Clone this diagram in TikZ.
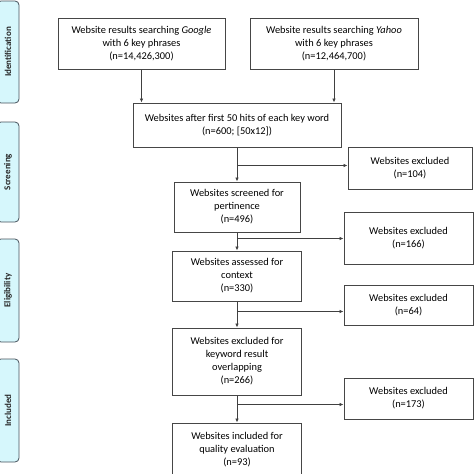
\documentclass[tikz,border=0pt]{standalone}
\usepackage{fontspec}
\setmainfont{Carlito}
\usetikzlibrary{positioning, arrows.meta, calc}

\definecolor{phasefill}{RGB}{214,247,252}
\definecolor{phaseline}{RGB}{70,82,92}
\definecolor{boxline}{RGB}{70,70,70}

\begin{document}
\begin{tikzpicture}[
  x=1pt, y=1pt,
  font=\fontsize{10.4}{13}\selectfont,
  stage/.style={
    draw=boxline,
    line width=1pt,
    align=center,
    inner sep=2pt,
  },
  phase/.style={
    draw=phaseline,
    fill=phasefill,
    line width=0.8pt,
    rounded corners=4pt,
    rotate=90,
    minimum height=22pt,
    text=black!85,
    font=\fontsize{9}{10}\selectfont\bfseries,
  },
  flow/.style={
    draw=black!75,
    line width=0.8pt,
    -{Latex[length=4pt,width=3.6pt]},
  },
]
\useasboundingbox (0,0) rectangle (474,-474);

% --- phase bars on the left ---
\node[phase, minimum width=102pt] (Ident) at (8,-52) {Identification};
\node[phase, minimum width=100pt] (Screen) at (8,-172) {Screening};
\node[phase, minimum width=103pt] (Elig) at (8,-290.5) {Eligibility};
\node[phase, minimum width=103pt] (Incl) at (8,-410.5) {Included};

% --- searches ---
\node[stage, minimum width=167pt, minimum height=51pt] (Google) at (141.5,-43.5)
  {Website results searching \textit{Google}\\ with 6 key phrases\\ (n=14,426,300)};
\node[stage, minimum width=168pt, minimum height=51pt] (Yahoo) at (334,-43.5)
  {Website results searching \textit{Yahoo}\\ with 6 key phrases\\ (n=12,464,700)};

% --- main chain ---
\node[stage, minimum width=208pt, minimum height=44pt] (First) at (237,-125)
  {Websites after first 50 hits of each key word\\ (n=600; [50x12])};
\node[stage, minimum width=126pt, minimum height=50pt, below=34pt of First] (Screened)
  {Websites screened for\\ pertinence\\ (n=496)};
\node[stage, minimum width=129pt, minimum height=50pt, below=18pt of Screened] (Assessed)
  {Websites assessed for\\ context\\ (n=330)};
\node[stage, minimum width=129pt, minimum height=67pt, below=26pt of Assessed] (Overlap)
  {Websites excluded for\\ keyword result\\ overlapping\\ (n=266)};
\node[stage, minimum width=129pt, minimum height=54pt, below=27pt of Overlap] (Quality)
  {Websites included for\\ quality evaluation\\ (n=93)};

% --- exclusions ---
\node[stage, minimum width=124pt, minimum height=42pt] (ExclA) at (410,-168)
  {Websites excluded\\ (n=104)};
\node[stage, minimum width=129pt, minimum height=52pt] (ExclB) at (408.5,-238)
  {Websites excluded\\ (n=166)};
\node[stage, minimum width=129pt, minimum height=40pt] (ExclC) at (408.5,-305)
  {Websites excluded\\ (n=64)};
\node[stage, minimum width=129pt, minimum height=41pt] (ExclD) at (408.5,-398.5)
  {Websites excluded\\ (n=173)};

% --- connectors ---
\draw[flow] (Google.south) -- (Google.south |- First.north);
\draw[flow] (Yahoo.south) -- (Yahoo.south |- First.north);

\coordinate (SplitA) at ($(First.south)+(0,-18)$);
\coordinate (SplitB) at ($(Screened.south)+(0,-6)$);
\coordinate (SplitC) at ($(Assessed.south)+(0,-10)$);
\coordinate (SplitD) at ($(Overlap.south)+(0,-9)$);

\draw[flow] (First.south) -- (Screened.north);
\draw[flow] (Screened.south) -- (Assessed.north);
\draw[flow] (Assessed.south) -- (Overlap.north);
\draw[flow] (Overlap.south) -- (Quality.north);

\draw[flow] (SplitA) -- (SplitA -| ExclA.west);
\draw[flow] (SplitB) -- (SplitB -| ExclB.west);
\draw[flow] (SplitC) -- (SplitC -| ExclC.west);
\draw[flow] (SplitD) -- (SplitD -| ExclD.west);
\end{tikzpicture}
\end{document}
